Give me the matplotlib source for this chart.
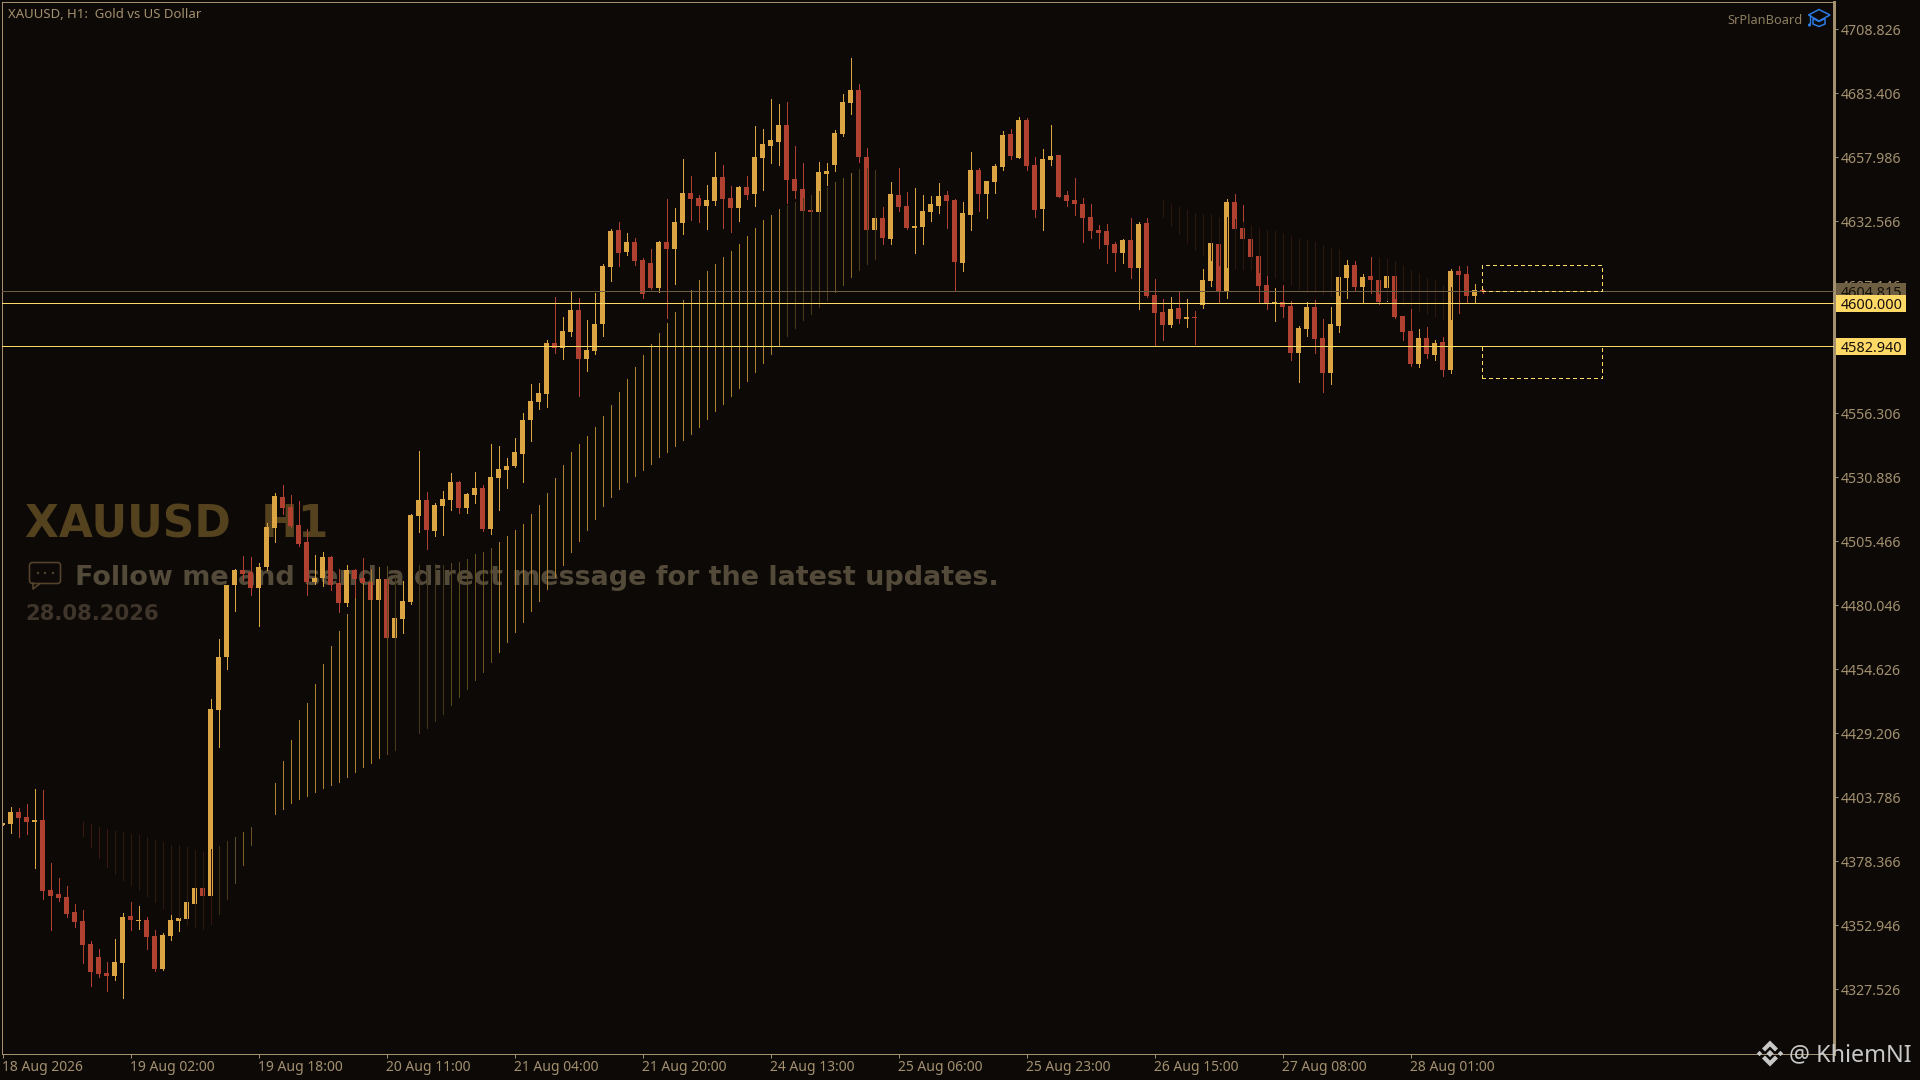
import numpy as np

import matplotlib
matplotlib.use('Agg')
import matplotlib.pyplot as plt
from matplotlib.patches import FancyBboxPatch, Polygon, Rectangle, Circle
from matplotlib.lines import Line2D
from matplotlib.transforms import Affine2D

nan = float('nan')

# XAUUSD H1 candles
opens = [
    4392.8,4393.2,4397.9,4396.0,4394.0,4394.8,4367.0,4365.4,4364.2,4358.2,
    4354.6,4345.5,4340.4,4334.0,4332.8,4337.9,4356.6,4354.6,4355.0,4348.7,
    4335.6,4348.7,4354.6,4355.4,4361.4,4367.8,4364.6,4438.5,4459.5,4488.1,
    4494.1,4493.3,4486.9,4495.3,4510.7,4523.1,4519.1,4511.9,4505.2,4489.3,
    4490.9,4499.2,4488.9,4481.0,4494.1,4490.9,4489.3,4482.1,4490.5,4467.1,
    4474.6,4481.4,4515.5,4521.9,4509.6,4519.5,4521.9,4529.0,4518.7,4523.9,
    4526.6,4510.4,4530.6,4533.8,4535.4,4540.2,4553.6,4560.8,4564.0,4584.2,
    4582.2,4588.6,4597.3,4577.9,4581.0,4591.8,4614.4,4629.1,4620.4,4624.4,
    4617.2,4616.0,4606.1,4624.4,4621.6,4631.9,4643.8,4641.8,4638.6,4640.6,
    4650.2,4641.8,4637.9,4646.2,4643.4,4657.7,4662.5,4664.1,4670.8,4649.4,
    4645.4,4637.1,4636.3,4651.4,4654.9,4667.2,4679.6,4684.7,4658.1,4629.1,
    4633.9,4625.5,4643.0,4638.6,4629.9,4630.3,4636.3,4638.6,4643.0,4641.0,
    4616.0,4635.1,4652.9,4643.4,4648.2,4654.1,4667.2,4657.7,4672.8,4654.9,
    4637.5,4656.9,4658.9,4643.0,4641.0,4639.4,4634.3,4629.1,4628.7,4623.6,
    4620.0,4625.1,4614.0,4631.9,4603.3,4596.5,4591.4,4598.1,4593.8,4594.6,
    4599.3,4608.9,4623.6,4604.9,4640.2,4629.9,4625.5,4618.8,4607.3,4600.1,
    4600.5,4598.9,4580.2,4589.8,4598.5,4586.2,4572.3,4591.0,4610.1,4615.2,
    4606.5,4610.8,4609.3,4606.1,4610.8,4595.0,4589.0,4575.9,4586.2,4579.5,
    4584.6,4573.5,4612.8,4611.6,4602.9,4605.3]
closes = [
    4393.6,4397.9,4395.6,4394.0,4394.8,4366.6,4364.6,4363.8,4357.4,4354.2,
    4345.1,4334.4,4333.6,4332.8,4338.4,4356.2,4355.0,4355.0,4348.3,4335.6,
    4349.1,4355.0,4355.8,4362.2,4367.8,4364.6,4438.9,4459.5,4488.1,4494.1,
    4492.5,4486.9,4495.3,4511.1,4523.5,4518.7,4511.5,4504.4,4489.3,4490.9,
    4499.2,4488.1,4481.0,4494.1,4490.5,4488.9,4482.1,4490.5,4467.1,4475.0,
    4481.8,4515.9,4521.9,4510.0,4519.9,4522.3,4529.0,4518.7,4524.2,4526.6,
    4510.4,4531.0,4534.2,4535.4,4541.0,4553.6,4561.2,4564.4,4584.2,4582.2,
    4589.0,4597.3,4577.9,4581.4,4591.8,4614.8,4628.7,4620.0,4624.4,4616.8,
    4603.7,4606.1,4624.4,4621.6,4632.3,4643.8,4641.4,4638.6,4641.0,4650.2,
    4641.4,4637.9,4646.2,4643.0,4658.1,4663.3,4664.9,4670.8,4649.0,4644.6,
    4636.7,4636.3,4652.1,4652.5,4667.6,4680.0,4684.7,4658.1,4629.1,4633.9,
    4626.0,4643.4,4638.2,4629.9,4630.7,4636.7,4639.4,4642.6,4640.6,4616.4,
    4635.9,4652.9,4643.4,4648.6,4654.5,4666.8,4658.5,4672.8,4654.5,4637.1,
    4657.3,4658.5,4642.2,4640.6,4639.4,4633.9,4628.7,4627.9,4623.2,4620.0,
    4625.1,4614.0,4631.5,4602.9,4596.1,4591.4,4597.7,4593.8,4594.6,4594.2,
    4609.3,4624.0,4604.9,4640.2,4629.5,4625.5,4618.4,4606.9,4600.1,4600.5,
    4598.5,4580.2,4590.2,4598.5,4585.8,4572.3,4591.8,4610.4,4615.2,4606.5,
    4610.4,4609.3,4600.5,4610.8,4594.6,4588.6,4575.9,4586.2,4579.8,4584.2,
    4573.5,4612.8,4611.2,4602.9,4605.3,4604.5]
highs = [
    4393.6,4399.9,4399.5,4401.1,4407.1,4406.7,4377.7,4371.7,4368.6,4361.4,
    4359.0,4346.7,4343.5,4338.4,4347.5,4357.8,4362.2,4360.6,4356.2,4351.1,
    4349.9,4357.4,4355.8,4362.2,4367.8,4367.8,4442.8,4466.7,4488.1,4494.5,
    4499.6,4499.2,4496.8,4512.7,4524.6,4527.8,4523.9,4521.5,4510.4,4500.0,
    4501.2,4499.6,4494.5,4496.0,4494.5,4498.8,4494.5,4495.3,4490.5,4475.0,
    4489.7,4516.3,4541.3,4525.0,4520.7,4525.4,4532.6,4529.4,4524.6,4533.0,
    4527.8,4544.1,4543.3,4538.5,4546.5,4556.4,4568.0,4568.4,4585.4,4602.5,
    4594.6,4604.9,4602.1,4593.4,4604.1,4615.6,4629.5,4632.3,4627.9,4626.0,
    4618.0,4621.6,4624.8,4641.4,4637.9,4657.3,4650.6,4643.0,4647.0,4660.1,
    4654.9,4646.6,4646.6,4650.6,4670.4,4669.2,4681.1,4679.2,4680.0,4662.5,
    4655.7,4637.1,4656.1,4655.7,4668.8,4683.1,4697.4,4687.1,4661.7,4633.9,
    4638.2,4648.2,4653.7,4644.2,4645.8,4643.0,4642.6,4647.8,4644.6,4641.4,
    4640.2,4660.1,4653.7,4648.6,4655.3,4668.4,4669.2,4674.0,4673.6,4658.1,
    4661.3,4670.8,4658.9,4644.6,4649.8,4641.8,4639.4,4631.1,4631.5,4624.4,
    4625.5,4633.9,4632.3,4633.9,4609.7,4601.7,4602.5,4604.9,4601.7,4596.9,
    4613.6,4624.0,4623.6,4641.4,4643.4,4639.0,4625.5,4618.8,4611.2,4606.1,
    4607.3,4600.9,4591.0,4600.5,4601.3,4593.8,4598.5,4610.4,4617.2,4616.8,
    4611.6,4618.4,4609.3,4610.8,4610.8,4595.0,4598.1,4589.8,4590.6,4585.4,
    4586.6,4613.6,4614.8,4614.8,4607.7,4605.7]
lows = [
    4392.8,4389.6,4388.0,4389.2,4375.7,4363.4,4351.1,4362.6,4356.2,4352.3,
    4337.9,4328.8,4332.4,4326.8,4331.2,4324.1,4351.1,4351.5,4343.5,4334.8,
    4335.2,4347.1,4350.7,4353.1,4361.4,4364.6,4364.6,4423.8,4454.7,4477.8,
    4490.1,4484.1,4471.8,4494.1,4505.2,4516.3,4511.1,4503.6,4484.1,4488.5,
    4487.7,4486.1,4477.4,4479.8,4483.3,4488.1,4482.1,4482.1,4467.1,4467.1,
    4469.0,4480.6,4509.2,4502.4,4507.6,4508.0,4517.9,4516.7,4516.7,4520.7,
    4509.6,4508.4,4517.9,4526.6,4535.0,4529.0,4545.3,4558.0,4558.8,4580.2,
    4577.9,4587.0,4563.2,4573.1,4579.8,4587.0,4608.9,4614.8,4619.2,4615.2,
    4602.1,4605.7,4604.5,4594.2,4607.7,4627.5,4633.1,4632.3,4629.5,4639.0,
    4629.9,4628.3,4632.7,4641.4,4638.6,4645.0,4655.7,4654.9,4639.8,4641.8,
    4636.7,4636.3,4636.3,4647.0,4652.5,4666.4,4675.2,4656.1,4629.1,4629.1,
    4623.6,4623.6,4636.7,4629.5,4620.0,4623.6,4632.7,4635.9,4629.9,4604.9,
    4612.8,4629.1,4636.7,4633.9,4643.8,4652.9,4657.3,4657.7,4652.9,4634.3,
    4629.1,4654.9,4642.2,4638.6,4635.1,4624.4,4626.0,4622.0,4616.0,4612.8,
    4616.0,4610.1,4597.7,4602.5,4583.0,4585.4,4590.6,4592.2,4590.6,4583.8,
    4598.1,4606.9,4600.1,4602.1,4629.5,4625.5,4618.4,4600.5,4597.7,4593.0,
    4594.6,4577.5,4568.7,4587.0,4580.2,4564.8,4568.0,4588.6,4602.1,4604.9,
    4600.5,4604.1,4599.7,4600.9,4594.2,4585.4,4575.1,4574.7,4578.3,4577.5,
    4571.1,4572.3,4596.1,4600.5,4600.1,4604.1]

# the thin cloud bars, nan where there is no bar
cloud_upper = (
    [nan]*10 +
    [4394.0,4393.2,4392.0,4391.2,4390.4,4390.0,4389.2,4388.8,4388.0,4386.8,4386.0,
     4384.8,4384.8,4384.0,4382.8,4382.1,4383.2,4384.4,4386.4,4388.0,4390.0,4392.0] +
    [nan]*2 +
    [4409.5,4418.2,4426.5,4434.5,4441.2,4448.8,4456.7,4463.9,4469.8,4476.6,4483.0,
     4488.9,4494.1,4495.3,4495.7,4492.9] +
    [nan]*2 +
    [4496.0,4493.7,4496.4,4496.0,4496.8,4497.2,4498.4,4500.4,4501.2,4502.8,4505.2,
     4507.6,4510.0,4512.3,4516.3,4519.9,4524.6,4530.6,4535.8,4541.0,4544.1,4547.3,
     4550.9,4555.2,4559.6,4564.8,4569.9,4574.7,4579.5,4583.8,4588.2,4592.2,4596.5,
     4601.3,4605.3,4609.3,4612.8,4615.6,4618.4,4620.8,4623.6,4626.7,4629.9,4633.1,
     4635.1,4637.5,4639.0,4640.2,4641.8,4643.0,4644.6,4646.2,4648.2,4649.8,4651.8,
     4653.3,4653.7,4652.9] +
    [nan]*35 +
    [4641.0,4639.4,4638.2,4637.1,4635.9,4635.5,4635.5,4634.3,4634.3,4633.5,4632.3,
     4631.1,4629.9,4629.1,4628.7,4627.9,4626.7,4625.5,4625.1,4624.4,4623.2,4622.0,
     4621.6] +
    [nan]*4 +
    [4618.4,4617.6,4616.8,4615.2,4613.2,4612.0,4610.1,4609.3,4607.3,4606.5])
cloud_lower = (
    [nan]*10 +
    [4388.4,4384.0,4379.7,4376.1,4373.3,4370.9,4369.0,4367.0,4364.6,4362.2,4359.8,
     4357.4,4355.8,4353.1,4352.3,4351.5,4353.5,4357.4,4363.4,4369.7,4376.9,4384.8] +
    [nan]*2 +
    [4397.2,4399.1,4401.5,4403.1,4404.3,4405.9,4407.5,4408.7,4409.9,4411.8,4413.8,
     4415.8,4417.4,4419.4,4421.0,4422.6] +
    [nan]*2 +
    [4429.3,4431.3,4434.1,4436.9,4440.5,4443.6,4446.8,4450.4,4453.6,4457.5,4461.5,
     4465.5,4469.4,4473.4,4477.8,4481.8,4486.5,4491.3,4496.0,4501.2,4505.6,4510.0,
     4514.3,4519.5,4523.1,4526.2,4529.0,4531.4,4533.8,4536.2,4539.0,4541.0,4543.3,
     4545.7,4548.1,4550.9,4554.1,4557.2,4560.0,4563.2,4566.4,4569.1,4572.7,4576.3,
     4579.8,4583.4,4587.0,4590.2,4593.4,4595.8,4598.5,4601.3,4604.5,4607.3,4610.4,
     4613.2,4615.6,4617.6] +
    [nan]*35 +
    [4634.3,4630.7,4627.5,4624.0,4621.2,4619.2,4617.2,4615.2,4614.4,4614.0,4613.6,
     4613.2,4612.4,4611.2,4610.4,4609.3,4607.7,4605.7,4604.5,4604.5,4603.7,4602.9,
     4603.3] +
    [nan]*4 +
    [4604.1,4601.3,4602.1,4599.7,4598.1,4596.9,4595.8,4595.0,4593.8,4593.8])

price_ticks = [4708.826, 4683.406, 4657.986, 4632.566, 4607.146, 4581.726, 4556.306, 4530.886,
               4505.466, 4480.046, 4454.626, 4429.206, 4403.786, 4378.366, 4352.946, 4327.526]
time_labels = ['18 Aug 2026', '19 Aug 02:00', '19 Aug 18:00', '20 Aug 11:00', '21 Aug 04:00', '21 Aug 20:00',
               '24 Aug 13:00', '25 Aug 06:00', '25 Aug 23:00', '26 Aug 15:00', '27 Aug 08:00', '28 Aug 01:00']
time_tick_bars = [0, 16, 32, 48, 64, 80, 96, 112, 128, 144, 160, 176]

bid_level = 4604.815
level_a = 4600.000
level_b = 4582.940
zone_first_bar = 184.9
zone_last_bar = 199.95
zone_upper = (4604.815, 4615.1)
zone_lower = (4570.2, 4582.94)

BG = '#0c0907'
AXIS = '#a3906e'
GOLD = '#dba544'
RED = '#b04030'
YELLOW = '#ffd966'
GREY_LINE = '#6e5f42'
FONT = 'Noto Sans'
MARK_FONT = 'DejaVu Sans'

# bar shades by index range
cloud_shades = [(10, 13, '#3a1a10'), (14, 25, '#2f1a11'), (26, 26, '#3a1410'), (27, 27, '#3a3012'),
                (28, 28, '#4a3a18'), (29, 29, '#5a4c2c'), (30, 30, '#7d6026'), (31, 31, '#6a5020'),
                (34, 47, '#ac802f'), (48, 48, '#5e4a1e'), (49, 49, '#4a3a18'), (52, 55, '#46381a'),
                (56, 58, '#5a4820'), (59, 61, '#6a5220'), (62, 97, '#ac802f'), (98, 103, '#4a3a1a'),
                (104, 105, '#6a5220'), (106, 106, '#8a6a26'), (107, 109, '#4a3a1a'), (145, 181, '#2c1610')]

plt.rcParams['font.family'] = [FONT, 'DejaVu Sans']

fig = plt.figure(figsize=(19.2, 10.8), dpi=100, facecolor=BG)
ax = fig.add_axes([2/1920, 1 - 1053.5/1080, 1832/1920, 1051.5/1080], facecolor=BG)

# pixel coordinates with the origin top left, for the decorations
to_px = Affine2D().scale(1, -1).translate(0, 1080)

bars = np.arange(len(opens))
o = np.array(opens)
c = np.array(closes)
up = c >= o
colors = np.where(up, GOLD, RED)

# watermark goes under the candles
ax.text(25, 538, 'XAUUSD  H1', transform=to_px, family=MARK_FONT, weight='bold', fontsize=31.6,
        color='#54421f', zorder=1, clip_on=False)
ax.text(75, 585, 'Follow me and send a direct message for the latest updates.', transform=to_px,
        family=MARK_FONT, weight='bold', fontsize=19.45, color='#534a39', zorder=1)
ax.text(25, 620, '28.08.2026', transform=to_px, family=MARK_FONT, weight='bold', fontsize=15.2,
        color='#3f352a', zorder=1)

bubble = FancyBboxPatch((32, 565), 26, 16, boxstyle='round,pad=2.5,rounding_size=3', transform=to_px,
                        fc='none', ec='#54422c', lw=1.2, zorder=1, clip_on=False)
ax.add_patch(bubble)
ax.add_line(Line2D([33, 33, 40], [583, 589, 583.5], transform=to_px, color='#54422c', lw=1.2, zorder=1))
for dot_x in [38, 45, 53]:
    ax.add_patch(Circle((dot_x, 573), 1.2, transform=to_px, fc='#54422c', ec='none', zorder=1))

# candles
ax.vlines(bars, lows, highs, colors=colors, lw=0.72, antialiased=False, zorder=2)
ax.bar(bars, np.abs(c - o), bottom=np.minimum(o, c), width=5/8, color=colors, antialiased=False,
       linewidth=0, zorder=2.1)

# cloud bars on top of the candles
cloud_x = np.arange(len(cloud_upper))
for first, last, shade in cloud_shades:
    sel = (cloud_x >= first) & (cloud_x <= last)
    ax.vlines(cloud_x[sel], np.array(cloud_lower)[sel], np.array(cloud_upper)[sel], colors=shade, lw=0.72,
              antialiased=False, zorder=3)

# horizontal levels
ax.axhline(bid_level, color=GREY_LINE, lw=0.72, zorder=4)
ax.axhline(level_a, color=YELLOW, lw=0.72, zorder=4)
ax.axhline(level_b, color=YELLOW, lw=0.72, zorder=4)

for low, high in [zone_upper, zone_lower]:
    ax.add_patch(Rectangle((zone_first_bar, low), zone_last_bar - zone_first_bar, high - low, fc='none',
                           ec=YELLOW, lw=0.72, ls=(0, (3.5, 3.5)), antialiased=False, zorder=4.5))

ax.set_xlim((2 - 2.5)/8, (1834 - 2.5)/8)
ax.set_ylim(4720.47 - 0.3972*1053.5, 4720.47 - 0.3972*2)

ax.yaxis.tick_right()
ax.set_yticks(price_ticks)
ax.set_yticklabels(['%.3f' % p for p in price_ticks])
ax.tick_params(axis='y', colors=AXIS, labelcolor=AXIS, length=2.9, width=0.72, pad=2, labelsize=10.2)
ax.set_xticks(time_tick_bars)
ax.set_xticklabels(time_labels, ha='left')
ax.tick_params(axis='x', colors=AXIS, labelcolor=AXIS, length=2.6, width=0.72, pad=2, labelsize=10)
for lab in ax.get_xticklabels():
    lab.set_horizontalalignment('left')

for side in ['left', 'top', 'bottom']:
    ax.spines[side].set_color(AXIS)
    ax.spines[side].set_linewidth(0.72)
ax.spines['right'].set_color(AXIS)
ax.spines['right'].set_linewidth(2.16)

# price labels on the right
trans = ax.get_yaxis_transform()
box_left = 1 + 1.7/1832
box_width = 70/1832
half_h = 8.4*0.3972
for price, fill, z in [(bid_level, GREY_LINE, 5), (level_a, YELLOW, 7), (level_b, YELLOW, 7)]:
    ax.add_patch(Rectangle((box_left, price - half_h), box_width, 2*half_h, transform=trans, fc=fill, ec='none',
                           clip_on=False, zorder=z))
    ax.text(1 + 6.5/1832, price, '%.3f' % price, transform=trans, color='#15100a', fontsize=10.4,
            va='center_baseline', ha='left', clip_on=False, zorder=z + 0.5)

fig.text(8/1920, 1 - 18/1080, 'XAUUSD, H1:  Gold vs US Dollar', color=AXIS, fontsize=9.5, va='baseline')
fig.text(1803/1920, 1 - 24/1080, 'SrPlanBoard', color='#8d7e60', fontsize=9.2, ha='right', va='baseline')

# blue cap icon
blue = '#2b7be4'
fig.add_artist(Polygon([(1819, 9.5), (1830, 15), (1819, 21), (1808.5, 15)], closed=True, transform=to_px, fc='none',
                       ec=blue, lw=1.1))
fig.add_artist(Polygon([(1813, 18.5), (1813, 24), (1819, 26.5), (1825, 24), (1825, 18.5), (1819, 21.5)], closed=True,
                       transform=to_px, fc='none', ec=blue, lw=1.1))
fig.add_artist(Line2D([1809.5, 1809.5], [15, 23], transform=to_px, color=blue, lw=1))
fig.add_artist(Circle((1809.5, 25), 1.6, transform=to_px, fc=blue, ec='none'))

# binance mark and name, bottom right
light = '#c8c8c8'
cx, cy = 1770, 1053.5
for dx, size in [(0, 3.6), (-10.5, 2.7), (10.5, 2.7)]:
    fig.add_artist(Polygon([(cx + dx - size, cy), (cx + dx, cy - size), (cx + dx + size, cy), (cx + dx, cy + size)],
                           closed=True, transform=to_px, fc=light, ec='none'))
for sign in [-1, 1]:
    fig.add_artist(Polygon([(cx, cy + sign*13), (cx + 8, cy + sign*5), (cx + 5, cy + sign*2), (cx, cy + sign*7),
                            (cx - 5, cy + sign*2), (cx - 8, cy + sign*5)], closed=True, transform=to_px, fc=light,
                           ec='none'))
fig.text(1789/1920, 1 - 1061.5/1080, '@ KhiemNI', color=light, fontsize=16.8, va='baseline')

fig.savefig('out.png', dpi=100, facecolor=BG)
